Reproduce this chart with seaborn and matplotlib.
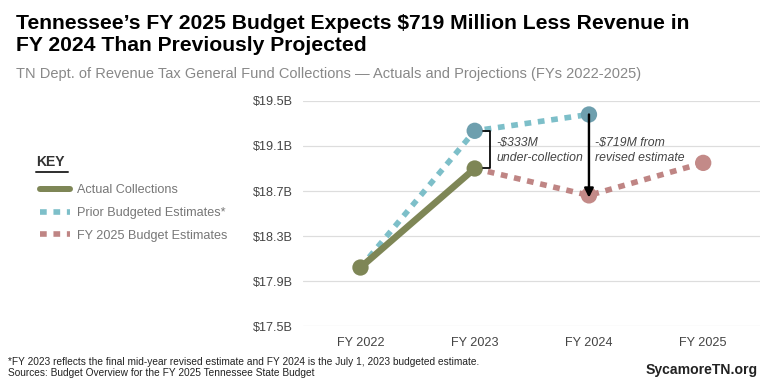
import pandas as pd
import numpy as np
import seaborn as sns
import matplotlib.pyplot as plt
from matplotlib.lines import Line2D

years = ['FY 2022', 'FY 2023', 'FY 2024', 'FY 2025']
actual_years = ['FY 2022', 'FY 2023']
actual = [18.02, 18.90]
prior_years = ['FY 2022', 'FY 2023', 'FY 2024']
prior = [18.02, 19.235, 19.38]
budget_years = ['FY 2023', 'FY 2024', 'FY 2025']
budget = [18.90, 18.661, 18.95]
yticks = [17.5, 17.9, 18.3, 18.7, 19.1, 19.5]

sns.set_theme(style='white')
plt.rcParams['font.family'] = ['Liberation Sans', 'DejaVu Sans']

olive = '#7e8656'
teal = '#7dbfc9'
teal_dot = '#6e9fae'
red = '#bf8584'
red_dot = '#c38a88'

pos = {y: i for i, y in enumerate(years)}
df_a = pd.DataFrame({'x': [pos[y] for y in actual_years], 'v': actual})
df_p = pd.DataFrame({'x': [pos[y] for y in prior_years], 'v': prior})
df_b = pd.DataFrame({'x': [pos[y] for y in budget_years], 'v': budget})

fig = plt.figure(figsize=(8, 4), dpi=96)
ax = fig.add_axes([0.395, 0.151, 0.595, 0.586])

sns.lineplot(data=df_p, x='x', y='v', ax=ax, color=teal, lw=4.2, zorder=2)
ax.lines[-1].set_linestyle((0, (1.2, 1.2)))
ax.lines[-1].set_dash_capstyle('butt')
sns.lineplot(data=df_b, x='x', y='v', ax=ax, color=red, lw=4.2, zorder=2)
ax.lines[-1].set_linestyle((0, (1.2, 1.2)))
ax.lines[-1].set_dash_capstyle('butt')
sns.lineplot(data=df_a, x='x', y='v', ax=ax, color=olive, lw=5, zorder=3)

sns.scatterplot(x=df_p['x'][1:], y=df_p['v'][1:], ax=ax, color=teal_dot, s=150,
                edgecolor='none', zorder=4)
sns.scatterplot(x=df_b['x'][1:], y=df_b['v'][1:], ax=ax, color=red_dot, s=150,
                edgecolor='none', zorder=4)
sns.scatterplot(x=df_a['x'], y=df_a['v'], ax=ax, color=olive, s=150,
                edgecolor='none', zorder=5)

ax.set_xlim(-0.5, 3.5)
ax.set_ylim(17.5, 19.5)
ax.set_yticks(yticks)
ax.set_yticklabels([f'${t:.1f}B' for t in yticks])
ax.set_xticks(range(len(years)))
ax.set_xticklabels(years)
ax.set_xlabel('')
ax.set_ylabel('')
ax.grid(axis='y', color='#dddddd', lw=0.9)
ax.set_axisbelow(True)
for s in ax.spines.values():
    s.set_visible(False)
ax.tick_params(axis='both', labelsize=9.5, colors='#444444', length=0, pad=8)

# bracket for under-collection
bx = pos['FY 2023'] + 0.13
ax.plot([pos['FY 2023'] + 0.07, bx, bx, pos['FY 2023'] + 0.07],
        [prior[1], prior[1], actual[1], actual[1]], color='black', lw=1.3, zorder=6)
ax.text(bx + 0.06, 19.06, '-$333M\nunder-collection',
        fontsize=9.2, style='italic', color='#444444', va='center', ha='left',
        linespacing=1.25)

# arrow for revised estimate
ax.annotate('', xy=(pos['FY 2024'], budget[1] - 0.02), xytext=(pos['FY 2024'], prior[2]),
            arrowprops=dict(arrowstyle='-|>', color='black', lw=1.8,
                            mutation_scale=14, shrinkA=0, shrinkB=0), zorder=6)
ax.text(pos['FY 2024'] + 0.05, 19.06, '-$719M from\nrevised estimate',
        fontsize=9.2, style='italic', color='#444444', va='center', ha='left',
        linespacing=1.25)

# titles
fig.text(0.021, 0.964, "Tennessee’s FY 2025 Budget Expects $719 Million Less Revenue in\nFY 2024 Than Previously Projected",
         fontsize=15.8, fontweight='bold', color='black', va='top',
         linespacing=1.22)
fig.text(0.021, 0.806, 'TN Dept. of Revenue Tax General Fund Collections — Actuals and Projections (FYs 2022-2025)',
         fontsize=11, color='#888888', va='center')

# key
fig.text(0.047, 0.578, 'KEY', fontsize=10.5, fontweight='bold', color='#333333', va='center')
fig.add_artist(Line2D([0.047, 0.088], [0.552, 0.552], color='#333333', lw=1.5))
handles = [Line2D([], [], color=olive, lw=4.5),
           Line2D([], [], color=teal, lw=4.2, linestyle=(0, (1.2, 1.2)), dash_capstyle='butt'),
           Line2D([], [], color=red, lw=4.2, linestyle=(0, (1.2, 1.2)), dash_capstyle='butt')]
labels = ['Actual Collections', 'Prior Budgeted Estimates*', 'FY 2025 Budget Estimates']
leg = fig.legend(handles, labels, loc='upper left', bbox_to_anchor=(0.052, 0.52),
                 frameon=False, fontsize=9.5, handlelength=2.4, labelspacing=0.85,
                 handletextpad=0.55, borderaxespad=0, borderpad=0)
for t in leg.get_texts():
    t.set_color('#777777')

# footer
fig.text(0.01, 0.058, '*FY 2023 reflects the final mid-year revised estimate and FY 2024 is the July 1, 2023 budgeted estimate.',
         fontsize=7.6, color='#222222', va='center')
fig.text(0.01, 0.028, 'Sources: Budget Overview for the FY 2025 Tennessee State Budget',
         fontsize=7.6, color='#222222', va='center')
fig.text(0.986, 0.036, 'SycamoreTN.org', fontsize=10.5, fontweight='bold',
         color='#222222', va='center', ha='right')

fig.savefig('out.png', dpi=96)
